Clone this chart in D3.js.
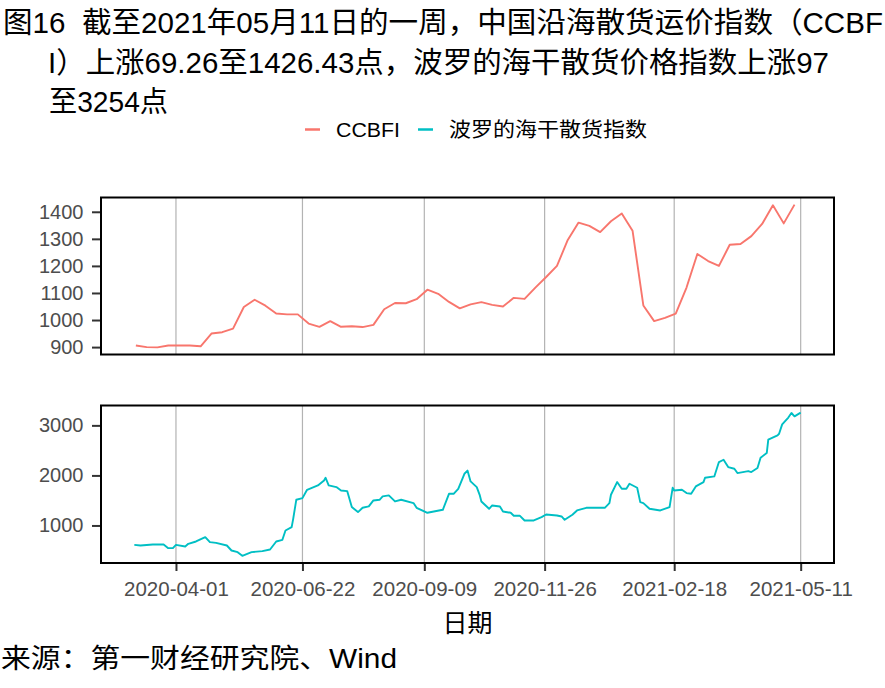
<!DOCTYPE html>
<html>
<head>
<meta charset="utf-8">
<script src="https://cdn.jsdelivr.net/npm/d3@7"></script>
<style>
  body { margin: 0; background: #fff; }
  text { font-family: "Liberation Sans", Arial, "Noto Sans CJK SC", sans-serif; }
</style>
</head>
<body>
<div id="chart"></div>
<script>
// ---- data ----
const titleLines = [
  "图16\u00a0\u00a0截至2021年05月11日的一周，中国沿海散货运价指数（CCBF",
  "I）上涨69.26至1426.43点，波罗的海干散货价格指数上涨97",
  "至3254点"
]
const seriesNames = ["CCBFI", "波罗的海干散货指数"]
const seriesColors = ["#F8766D", "#00BFC4"]

// CCBFI, weekly from 2020-03-06
const ccbfiStart = "2020-03-06"
const ccbfiValues = [
  906, 900, 899, 906, 906, 906, 903, 950, 955, 968,
  1048, 1075, 1053, 1024, 1021, 1021, 987, 975, 996, 975,
  977, 974, 982, 1040, 1063, 1062, 1077, 1112, 1097, 1067,
  1043, 1058, 1066, 1056, 1050, 1082, 1078, 1120, 1159, 1200,
  1296, 1360, 1348, 1325, 1365, 1394, 1330, 1054, 996, 1008,
  1024, 1120, 1244, 1218, 1200, 1278, 1281, 1310, 1355, 1424,
  1357.17, 1426.43
]

// BDI
const bdiDates = [
  "2020-03-05","2020-03-09","2020-03-17","2020-03-24","2020-03-27","2020-03-30","2020-04-01","2020-04-07",
  "2020-04-09","2020-04-14","2020-04-20","2020-04-23","2020-04-27","2020-05-04","2020-05-07","2020-05-11",
  "2020-05-14","2020-05-20","2020-05-27","2020-06-01","2020-06-05","2020-06-09","2020-06-11","2020-06-15",
  "2020-06-16","2020-06-18","2020-06-22","2020-06-25","2020-07-02","2020-07-06","2020-07-07","2020-07-09",
  "2020-07-14","2020-07-17","2020-07-21","2020-07-24","2020-07-28","2020-07-31","2020-08-04","2020-08-07",
  "2020-08-11","2020-08-13","2020-08-17","2020-08-21","2020-08-25","2020-09-02","2020-09-04","2020-09-11",
  "2020-09-21","2020-09-25","2020-09-28","2020-10-01","2020-10-05","2020-10-07","2020-10-09","2020-10-13",
  "2020-10-15","2020-10-16","2020-10-21","2020-10-23","2020-10-28","2020-10-30","2020-11-04","2020-11-06",
  "2020-11-10","2020-11-13","2020-11-19","2020-11-24","2020-11-27","2020-12-04","2020-12-07","2020-12-09",
  "2020-12-14","2020-12-17","2020-12-23","2021-01-04","2021-01-07","2021-01-08","2021-01-12","2021-01-15",
  "2021-01-18","2021-01-20","2021-01-25","2021-01-27","2021-01-29","2021-02-02","2021-02-09","2021-02-15",
  "2021-02-17","2021-02-18","2021-02-23","2021-02-26","2021-03-01","2021-03-04","2021-03-09","2021-03-10",
  "2021-03-16","2021-03-19","2021-03-22","2021-03-25","2021-03-29","2021-03-31","2021-04-07","2021-04-09",
  "2021-04-13","2021-04-15","2021-04-19","2021-04-20","2021-04-26","2021-04-27","2021-04-29","2021-05-03",
  "2021-05-05","2021-05-07","2021-05-11"
]
const bdiValues = [
  613, 600, 620, 620, 547, 547, 613, 580,
  633, 680, 767, 667, 653, 600, 500, 467,
  393, 467, 487, 520, 680, 713, 900, 967,
  1133, 1513, 1547, 1713, 1800, 1900, 1953, 1800,
  1767, 1700, 1687, 1367, 1267, 1353, 1380, 1500,
  1513, 1580, 1600, 1480, 1513, 1447, 1353, 1253,
  1313, 1633, 1633, 1733, 2033, 2097, 1880, 1767,
  1600, 1480, 1333, 1400, 1380, 1280, 1253, 1193,
  1193, 1100, 1100, 1167, 1220, 1200, 1180, 1113,
  1213, 1300, 1353, 1353, 1447, 1613, 1867, 1733,
  1733, 1833, 1753, 1467, 1447, 1333, 1300, 1367,
  1753, 1700, 1713, 1647, 1633, 1780, 1867, 1953,
  1980, 2267, 2313, 2167, 2133, 2047, 2087, 2067,
  2147, 2353, 2447, 2713, 2800, 2833, 3020, 3157,
  3247, 3180, 3254
]

const xTickLabels = ["2020-04-01", "2020-06-22", "2020-09-09", "2020-11-26", "2021-02-18", "2021-05-11"]
const ccbfiTicks = [900, 1000, 1100, 1200, 1300, 1400]
const bdiTicks = [1000, 2000, 3000]

// ---- layout ----
const width = 885, height = 688
const left = 101, right = 834
const parse = d3.timeParse("%Y-%m-%d")

const ccbfi = ccbfiValues.map((v, i) => ({ date: d3.timeDay.offset(parse(ccbfiStart), 7 * i), value: v }))
const bdi = bdiDates.map((d, i) => ({ date: parse(d), value: bdiValues[i] }))

// ggplot style 5% expansion
function expand([a, b]) {
  const p = (b - a) * 0.05
  return [a - p, b + p]
}

const allDates = ccbfi.concat(bdi).map(d => +d.date)
const x = d3.scaleTime()
  .domain(expand(d3.extent(allDates)).map(t => new Date(t)))
  .range([left, right])

const panels = [
  { data: ccbfi, color: seriesColors[0], top: 197.5, bottom: 354.5, ticks: ccbfiTicks },
  { data: bdi, color: seriesColors[1], top: 405.5, bottom: 563, ticks: bdiTicks }
]

const svg = d3.select("#chart").append("svg")
  .attr("width", width)
  .attr("height", height)
  .style("background", "#fff")

// title, wrapped like the original
const titlePos = [[3, 33, 880], [48, 72.5, 781], [49, 111.5, 119]]
titleLines.forEach((t, i) => {
  svg.append("text")
    .attr("x", titlePos[i][0]).attr("y", titlePos[i][1])
    .attr("font-size", 29).attr("fill", "#000")
    .attr("textLength", titlePos[i][2]).attr("lengthAdjust", "spacingAndGlyphs")
    .text(t)
})

// legend
const legend = svg.append("g")
legend.append("line").attr("x1", 305).attr("x2", 320).attr("y1", 129.5).attr("y2", 129.5)
  .attr("stroke", seriesColors[0]).attr("stroke-width", 2.5)
legend.append("text").attr("x", 336).attr("y", 137)
  .attr("font-size", 20).attr("fill", "#000")
  .attr("textLength", 64).attr("lengthAdjust", "spacingAndGlyphs")
  .text(seriesNames[0])
legend.append("line").attr("x1", 418).attr("x2", 433).attr("y1", 129.5).attr("y2", 129.5)
  .attr("stroke", seriesColors[1]).attr("stroke-width", 2.5)
legend.append("text").attr("x", 449).attr("y", 137)
  .attr("font-size", 20).attr("fill", "#000")
  .attr("textLength", 198).attr("lengthAdjust", "spacingAndGlyphs")
  .text(seriesNames[1])

const tickDates = xTickLabels.map(parse)

panels.forEach((p) => {
  const y = d3.scaleLinear()
    .domain(expand(d3.extent(p.data, d => d.value)))
    .range([p.bottom, p.top])

  const g = svg.append("g")

  // vertical grid
  g.selectAll(".grid")
    .data(tickDates)
    .enter()
    .append("line")
    .attr("x1", d => x(d)).attr("x2", d => x(d))
    .attr("y1", p.top).attr("y2", p.bottom)
    .attr("stroke", "#b3b3b3")
    .attr("stroke-width", 1.2)

  g.append("path")
    .datum(p.data)
    .attr("fill", "none")
    .attr("stroke", p.color)
    .attr("stroke-width", 1.9)
    .attr("stroke-linejoin", "round")
    .attr("d", d3.line().x(d => x(d.date)).y(d => y(d.value)))

  g.append("rect")
    .attr("x", left).attr("y", p.top)
    .attr("width", right - left).attr("height", p.bottom - p.top)
    .attr("fill", "none")
    .attr("stroke", "#000")
    .attr("stroke-width", 2)

  const ay = g.append("g")
    .attr("transform", "translate(" + (left - 1) + ",0)")
    .call(d3.axisLeft(y).tickValues(p.ticks).tickFormat(d3.format("d")).tickSize(8).tickPadding(8.5))
  ay.select(".domain").remove()
  ay.selectAll(".tick line").attr("stroke", "#333").attr("stroke-width", 2)
  ay.selectAll(".tick text")
    .attr("font-family", null)
    .attr("font-size", 20)
    .attr("fill", "#4d4d4d")
})

// x axis under bottom panel
const ax = svg.append("g")
  .attr("transform", "translate(0," + 564 + ")")
  .call(d3.axisBottom(x).tickValues(tickDates).tickFormat(d3.timeFormat("%Y-%m-%d")).tickSize(7).tickPadding(10))
ax.select(".domain").remove()
ax.selectAll(".tick line").attr("stroke", "#333").attr("stroke-width", 2)
ax.selectAll(".tick text")
  .attr("font-family", null)
  .attr("font-size", 20.5)
  .attr("fill", "#4d4d4d")

// axis title
svg.append("text")
  .attr("x", (left + right) / 2).attr("y", 632)
  .attr("text-anchor", "middle")
  .attr("font-size", 25).attr("fill", "#000")
  .text("日期")

// caption
svg.append("text")
  .attr("x", 1).attr("y", 668)
  .attr("font-size", 27).attr("fill", "#000")
  .attr("textLength", 396).attr("lengthAdjust", "spacingAndGlyphs")
  .text("来源：第一财经研究院、Wind")
</script>
</body>
</html>
